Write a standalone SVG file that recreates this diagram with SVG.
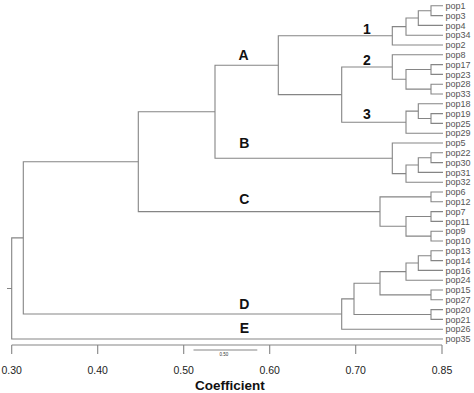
<svg xmlns="http://www.w3.org/2000/svg" width="474" height="393" viewBox="0 0 474 393">
<style>
.ln{fill:none;stroke:#858585;stroke-width:1.1}
.leaf{font-family:"Liberation Sans",Arial,sans-serif;font-size:9px;fill:#555}
.cl{font-family:"Liberation Sans",Arial,sans-serif;font-size:14px;font-weight:bold;fill:#111;text-anchor:middle}
.tk{font-family:"Liberation Sans",Arial,sans-serif;font-size:10.5px;fill:#222;text-anchor:middle}
</style>
<rect width="474" height="393" fill="#fff"/>
<g id="connectors" class="ln">
<path d="M7 288.45 H11.7 M443 339 H11.7 V237.9 H23.3"/>
<path d="M138.3 161.7 H23.3 V314.05 H341.7"/>
<path d="M215 111.75 H138.3 V211.6 H380"/>
<path d="M278.3 65.2 H215 V158.3 H392.3"/>
<path d="M392.3 35.8 H278.3 V94.6 H341.7"/>
<path d="M392.3 67.05 H341.7 V122.2 H406"/>
<path d="M406 26.6 H392.3 V45 H443"/>
<path d="M418.3 18.05 H406 V35.2 H443"/>
<path d="M431 10.7 H418.3 V25.4 H443"/>
<path d="M443 5.8 H431 V15.6 H443"/>
<path d="M443 54.8 H392.3 V79.3 H406"/>
<path d="M431 69.5 H406 V89.1 H431"/>
<path d="M443 64.6 H431 V74.4 H443"/>
<path d="M443 84.2 H431 V94 H443"/>
<path d="M418.3 111.15 H406 V133.2 H443"/>
<path d="M443 103.8 H418.3 V118.5 H431"/>
<path d="M443 113.6 H431 V123.4 H443"/>
<path d="M443 143 H392.3 V173.6 H406"/>
<path d="M418.3 165.05 H406 V182.2 H443"/>
<path d="M431 157.7 H418.3 V172.4 H443"/>
<path d="M443 152.8 H431 V162.6 H443"/>
<path d="M431 196.9 H380 V226.3 H406"/>
<path d="M443 192 H431 V201.8 H443"/>
<path d="M431 216.5 H406 V236.1 H431"/>
<path d="M443 211.6 H431 V221.4 H443"/>
<path d="M443 231.2 H431 V241 H443"/>
<path d="M354 298.9 H341.7 V329.2 H443"/>
<path d="M380 283.25 H354 V314.5 H431"/>
<path d="M443 309.6 H431 V319.4 H443"/>
<path d="M406 271.6 H380 V294.9 H431"/>
<path d="M443 290 H431 V299.8 H443"/>
<path d="M418.3 263.05 H406 V280.2 H443"/>
<path d="M431 255.7 H418.3 V270.4 H443"/>
<path d="M443 250.8 H431 V260.6 H443"/>
</g>
<g id="leaves" class="leaf">
<g id="pop1"><text x="445.5" y="9">pop1</text></g>
<g id="pop3"><text x="445.5" y="18.8">pop3</text></g>
<g id="pop4"><text x="445.5" y="28.6">pop4</text></g>
<g id="pop34"><text x="445.5" y="38.4">pop34</text></g>
<g id="pop2"><text x="445.5" y="48.2">pop2</text></g>
<g id="pop8"><text x="445.5" y="58">pop8</text></g>
<g id="pop17"><text x="445.5" y="67.8">pop17</text></g>
<g id="pop23"><text x="445.5" y="77.6">pop23</text></g>
<g id="pop28"><text x="445.5" y="87.4">pop28</text></g>
<g id="pop33"><text x="445.5" y="97.2">pop33</text></g>
<g id="pop18"><text x="445.5" y="107">pop18</text></g>
<g id="pop19"><text x="445.5" y="116.8">pop19</text></g>
<g id="pop25"><text x="445.5" y="126.6">pop25</text></g>
<g id="pop29"><text x="445.5" y="136.4">pop29</text></g>
<g id="pop5"><text x="445.5" y="146.2">pop5</text></g>
<g id="pop22"><text x="445.5" y="156">pop22</text></g>
<g id="pop30"><text x="445.5" y="165.8">pop30</text></g>
<g id="pop31"><text x="445.5" y="175.6">pop31</text></g>
<g id="pop32"><text x="445.5" y="185.4">pop32</text></g>
<g id="pop6"><text x="445.5" y="195.2">pop6</text></g>
<g id="pop12"><text x="445.5" y="205">pop12</text></g>
<g id="pop7"><text x="445.5" y="214.8">pop7</text></g>
<g id="pop11"><text x="445.5" y="224.6">pop11</text></g>
<g id="pop9"><text x="445.5" y="234.4">pop9</text></g>
<g id="pop10"><text x="445.5" y="244.2">pop10</text></g>
<g id="pop13"><text x="445.5" y="254">pop13</text></g>
<g id="pop14"><text x="445.5" y="263.8">pop14</text></g>
<g id="pop16"><text x="445.5" y="273.6">pop16</text></g>
<g id="pop24"><text x="445.5" y="283.4">pop24</text></g>
<g id="pop15"><text x="445.5" y="293.2">pop15</text></g>
<g id="pop27"><text x="445.5" y="303">pop27</text></g>
<g id="pop20"><text x="445.5" y="312.8">pop20</text></g>
<g id="pop21"><text x="445.5" y="322.6">pop21</text></g>
<g id="pop26"><text x="445.5" y="332.4">pop26</text></g>
<g id="pop35"><text x="445.5" y="342.2">pop35</text></g>
</g>
<g id="cluster-labels" class="cl">
<g id="lblA"><text x="243.5" y="60">A</text></g>
<g id="lblB"><text x="244.3" y="148.3">B</text></g>
<g id="lblC"><text x="244.3" y="204">C</text></g>
<g id="lblD"><text x="244.3" y="308.5">D</text></g>
<g id="lblE"><text x="244.3" y="333.3">E</text></g>
<g id="lbl1"><text x="367" y="33.5">1</text></g>
<g id="lbl2"><text x="367" y="65">2</text></g>
<g id="lbl3"><text x="367" y="119.3">3</text></g>
</g>
<g id="axis">
<path class="ln" d="M11.7 345 H442 M11.7 345 V354 M97.7 345 V354 M183.7 345 V354 M269.7 345 V354 M355.7 345 V354 M442 345 V354"/>
<path class="ln" d="M193.5 350 H257.3"/>
<text x="224" y="356" font-family="Liberation Sans, Arial, sans-serif" font-size="4.5" fill="#333" text-anchor="middle">0.50</text>
<g class="tk">
<text x="11.7" y="374">0.30</text>
<text x="97.7" y="374">0.40</text>
<text x="183.7" y="374">0.50</text>
<text x="269.7" y="374">0.60</text>
<text x="355.7" y="374">0.70</text>
<text x="442" y="374">0.85</text>
</g>
<text x="230" y="390" font-family="Liberation Sans, Arial, sans-serif" font-size="13.5" font-weight="bold" fill="#111" text-anchor="middle">Coefficient</text>
</g>
</svg>
